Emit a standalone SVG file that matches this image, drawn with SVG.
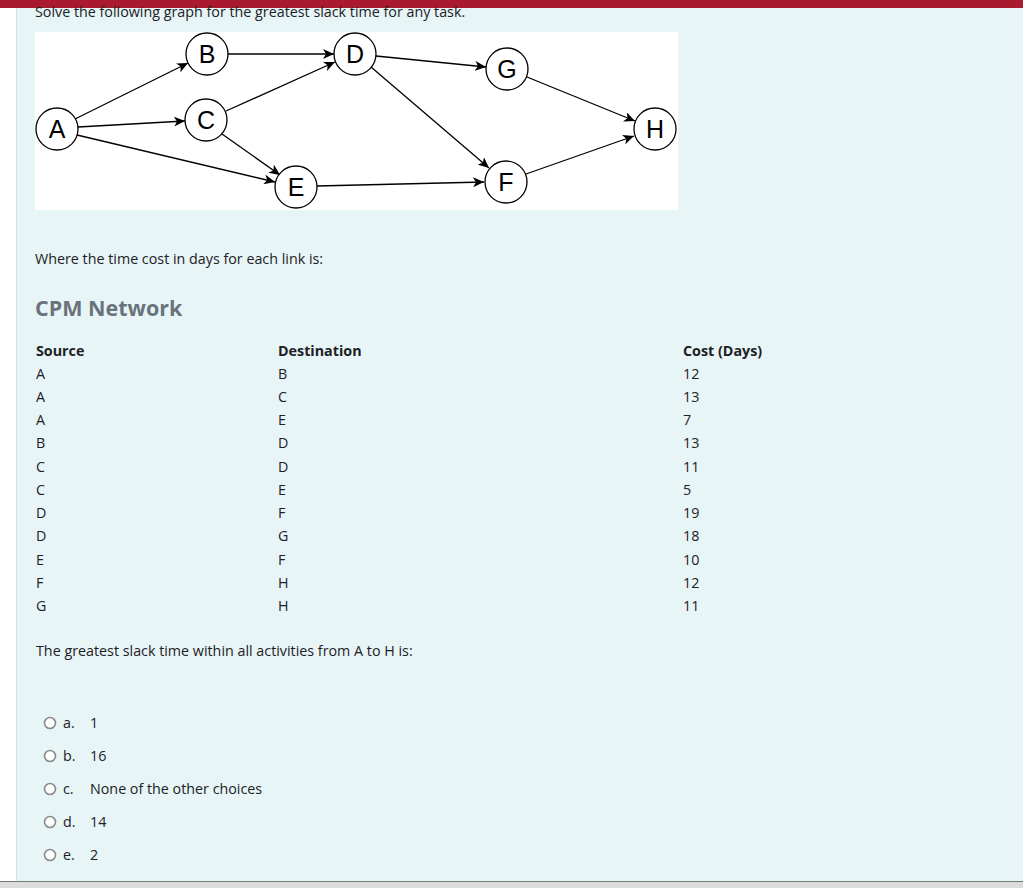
<svg xmlns="http://www.w3.org/2000/svg" width="1023" height="888" viewBox="0 0 1023 888">
<style>
.t{font-family:"Open Sans","Noto Sans",sans-serif;font-size:14.3px;fill:#1d2125}
.h{font-weight:bold}
.n{font-family:"Liberation Sans",Arial,sans-serif;font-size:25px;fill:#000;text-anchor:middle}
.c{fill:#fff;stroke:#000;stroke-width:1.3}
.e{stroke:#000;stroke-width:1.3;fill:none;marker-end:url(#ar)}
.r{fill:#fff;stroke:#8a8a8a;stroke-width:1.6}
</style>
<defs>
<marker id="ar" markerWidth="12" markerHeight="10" refX="11" refY="5" orient="auto" markerUnits="userSpaceOnUse">
<path d="M0,0 L11,5 L0,10 L3,5 Z" fill="#000"/>
</marker>
</defs>
<rect x="0" y="0" width="1023" height="888" fill="#ffffff"/>
<rect x="16" y="0" width="1007" height="888" fill="#e7f5f7"/>
<line x1="16.5" y1="0" x2="16.5" y2="888" stroke="#c9e6ec" stroke-width="1"/>
<rect x="0" y="0" width="1023" height="8" fill="#a91a2f"/>
<rect x="0" y="881" width="1023" height="7" fill="#dcdcdc"/>
<line x1="0" y1="881.5" x2="1023" y2="881.5" stroke="#6f7a7a" stroke-width="1"/>

<text class="t" x="35" y="17" font-size="15.3">Solve the following graph for the greatest slack time for any task.</text>

<rect x="35" y="32" width="643" height="178" fill="#ffffff"/>

<g id="connectors">
<line class="e" x1="75" y1="119" x2="188" y2="63"/>
<line class="e" x1="78" y1="127" x2="185" y2="121"/>
<line class="e" x1="77" y1="135" x2="275" y2="182"/>
<line class="e" x1="228" y1="54" x2="334" y2="54"/>
<line class="e" x1="226" y1="111" x2="335" y2="62"/>
<line class="e" x1="222" y1="134" x2="280" y2="175"/>
<line class="e" x1="376" y1="56" x2="486" y2="67"/>
<line class="e" x1="371" y1="67" x2="489" y2="168"/>
<line class="e" x1="317" y1="186" x2="484" y2="182"/>
<line class="e" x1="527" y1="77" x2="635" y2="121"/>
<line class="e" x1="526" y1="174" x2="634" y2="136"/>
</g>

<g id="node-A"><circle class="c" cx="57" cy="129" r="21"/><text class="n" x="57" y="138">A</text></g>
<g id="node-B"><circle class="c" cx="207" cy="54" r="21"/><text class="n" x="207" y="63">B</text></g>
<g id="node-C"><circle class="c" cx="206" cy="120" r="21"/><text class="n" x="206" y="129">C</text></g>
<g id="node-D"><circle class="c" cx="355" cy="54" r="21"/><text class="n" x="355" y="63">D</text></g>
<g id="node-E"><circle class="c" cx="296" cy="187" r="21"/><text class="n" x="296" y="196">E</text></g>
<g id="node-G"><circle class="c" cx="507" cy="69" r="21"/><text class="n" x="507" y="78">G</text></g>
<g id="node-F"><circle class="c" cx="506" cy="182" r="21"/><text class="n" x="506" y="191">F</text></g>
<g id="node-H"><circle class="c" cx="655" cy="129" r="21"/><text class="n" x="655" y="138">H</text></g>

<text class="t" x="35" y="264" font-size="15.2">Where the time cost in days for each link is:</text>
<text x="35" y="316" font-family="Open Sans,Noto Sans,sans-serif" font-size="21.5" font-weight="bold" fill="#6a737b">CPM Network</text>

<g id="table">
<text class="t h" x="36" y="356">Source</text>
<text class="t h" x="278" y="356">Destination</text>
<text class="t h" x="683" y="356">Cost (Days)</text>

<text class="t" x="36" y="379">A</text><text class="t" x="278" y="379">B</text><text class="t" x="683" y="379">12</text>
<text class="t" x="36" y="402">A</text><text class="t" x="278" y="402">C</text><text class="t" x="683" y="402">13</text>
<text class="t" x="36" y="425">A</text><text class="t" x="278" y="425">E</text><text class="t" x="683" y="425">7</text>
<text class="t" x="36" y="448">B</text><text class="t" x="278" y="448">D</text><text class="t" x="683" y="448">13</text>
<text class="t" x="36" y="472">C</text><text class="t" x="278" y="472">D</text><text class="t" x="683" y="472">11</text>
<text class="t" x="36" y="495">C</text><text class="t" x="278" y="495">E</text><text class="t" x="683" y="495">5</text>
<text class="t" x="36" y="518">D</text><text class="t" x="278" y="518">F</text><text class="t" x="683" y="518">19</text>
<text class="t" x="36" y="541">D</text><text class="t" x="278" y="541">G</text><text class="t" x="683" y="541">18</text>
<text class="t" x="36" y="565">E</text><text class="t" x="278" y="565">F</text><text class="t" x="683" y="565">10</text>
<text class="t" x="36" y="588">F</text><text class="t" x="278" y="588">H</text><text class="t" x="683" y="588">12</text>
<text class="t" x="36" y="611">G</text><text class="t" x="278" y="611">H</text><text class="t" x="683" y="611">11</text>
</g>

<text class="t" x="36" y="656">The greatest slack time within all activities from A to H is:</text>

<g id="options">
<circle class="r" cx="50" cy="723" r="5.5"/><text class="t" x="63" y="728">a.</text><text class="t" x="90" y="728">1</text>
<circle class="r" cx="50" cy="756" r="5.5"/><text class="t" x="63" y="761">b.</text><text class="t" x="90" y="761">16</text>
<circle class="r" cx="50" cy="789" r="5.5"/><text class="t" x="63" y="794">c.</text><text class="t" x="90" y="794">None of the other choices</text>
<circle class="r" cx="50" cy="822" r="5.5"/><text class="t" x="63" y="827">d.</text><text class="t" x="90" y="827">14</text>
<circle class="r" cx="50" cy="855" r="5.5"/><text class="t" x="63" y="860">e.</text><text class="t" x="90" y="860">2</text>
</g>
</svg>
